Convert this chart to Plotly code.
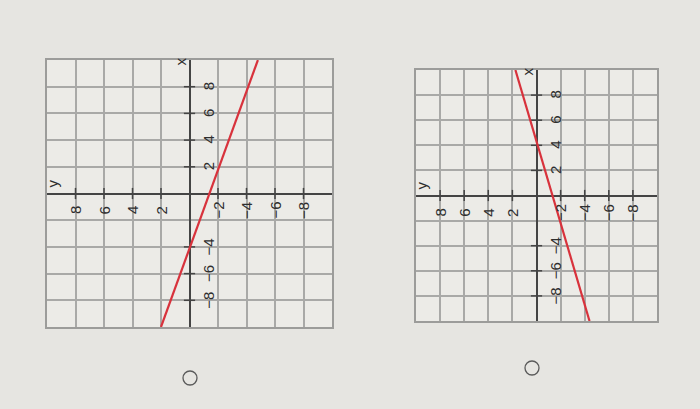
import plotly.graph_objects as go

W, H = 700, 409

# Data read from the (rotated) picture: original x runs up the page, original y runs to the left
line1_x = [-10, 10]
line1_y = [2.0, -4.8]
line2_x = [-10, 10]
line2_y = [-4.4, 1.75]

grid_vals = [-10, -8, -6, -4, -2, 0, 2, 4, 6, 8, 10]
y_tick_vals = [8, 6, 4, 2, -2, -4, -6, -8]          # labels along the original y axis
x_tick_vals = [-8, -6, -4, 2, 4, 6, 8]              # labels along the original x axis

def lab(v):
    return str(v).replace("-", "\u2212")

# panel pixel boxes (left, right, top, bottom)
panels = [
    dict(box=(47, 332, 60, 327), lx=line1_x, ly=line1_y),
    dict(box=(416, 657, 70, 321), lx=line2_x, ly=line2_y),
]

fig = go.Figure()
annotations = []
shapes = []
font = dict(family="Liberation Sans, Arial", size=15, color="#2e2e2e")

for i, p in enumerate(panels, start=1):
    l, r, t, b = p["box"]
    xa = "xaxis" if i == 1 else f"xaxis{i}"
    ya = "yaxis" if i == 1 else f"yaxis{i}"
    xr = "x" if i == 1 else f"x{i}"
    yr = "y" if i == 1 else f"y{i}"
    fig.update_layout({
        xa: dict(domain=[l / W, r / W], range=[10, -10], tickvals=grid_vals, showticklabels=False,
                 ticks="", showgrid=True, gridcolor="#a9a9a7", gridwidth=1.5,
                 zeroline=True, zerolinecolor="#444444", zerolinewidth=1.7,
                 showline=True, linecolor="#9c9c9a", linewidth=1.5, mirror=True,
                 anchor=yr, fixedrange=True),
        ya: dict(domain=[1 - b / H, 1 - t / H], range=[-10, 10], tickvals=grid_vals, showticklabels=False,
                 ticks="", showgrid=True, gridcolor="#a9a9a7", gridwidth=1.5,
                 zeroline=True, zerolinecolor="#444444", zerolinewidth=1.7,
                 showline=True, linecolor="#9c9c9a", linewidth=1.5, mirror=True,
                 anchor=xr, fixedrange=True),
    })
    # tick marks on the axes through the origin
    fig.add_trace(go.Scatter(x=y_tick_vals, y=[0] * len(y_tick_vals), mode="markers",
                             marker=dict(symbol="line-ns", size=8, line=dict(color="#444444", width=1.5)),
                             xaxis=xr, yaxis=yr, hoverinfo="skip", showlegend=False))
    fig.add_trace(go.Scatter(x=[0] * len(x_tick_vals), y=x_tick_vals, mode="markers",
                             marker=dict(symbol="line-ew", size=8, line=dict(color="#444444", width=1.5)),
                             xaxis=xr, yaxis=yr, hoverinfo="skip", showlegend=False))
    # the red line: screen-x = original y, screen-y = original x
    fig.add_trace(go.Scatter(x=p["ly"], y=p["lx"], mode="lines",
                             line=dict(color="#d8323c", width=2.2),
                             xaxis=xr, yaxis=yr, hoverinfo="skip", showlegend=False))
    for v in y_tick_vals:
        annotations.append(dict(x=v, y=0, xref=xr, yref=yr, text=lab(v), showarrow=False,
                                textangle=-90, yshift=-17, font=font))
    for v in x_tick_vals:
        annotations.append(dict(x=0, y=v, xref=xr, yref=yr, text=lab(v), showarrow=False,
                                textangle=-90, xshift=19, font=font))
    annotations.append(dict(x=10, y=0, xref=xr, yref=yr, text="y", showarrow=False,
                            textangle=-90, xshift=5, yshift=10, font=font))
    annotations.append(dict(x=0, y=10, xref=xr, yref=yr, text="x", showarrow=False,
                            textangle=-90, xshift=-10, yshift=-2, font=font))

# radio-button circles
for cx, cy in [(190, 378), (532, 368)]:
    shapes.append(dict(type="circle", xref="paper", yref="paper",
                       xsizemode="pixel", ysizemode="pixel",
                       xanchor=cx / W, yanchor=1 - cy / H,
                       x0=-7, x1=7, y0=-7, y1=7,
                       line=dict(color="#5a5a5a", width=1.3)))

fig.update_layout(width=W, height=H, margin=dict(l=0, r=0, t=0, b=0),
                  paper_bgcolor="#e6e5e1", plot_bgcolor="#ecebe7",
                  annotations=annotations, shapes=shapes, showlegend=False)

fig.write_html("out.html", config={"displayModeBar": False},
               post_script="document.body.style.margin='0';document.body.style.background='#e6e5e1';")
